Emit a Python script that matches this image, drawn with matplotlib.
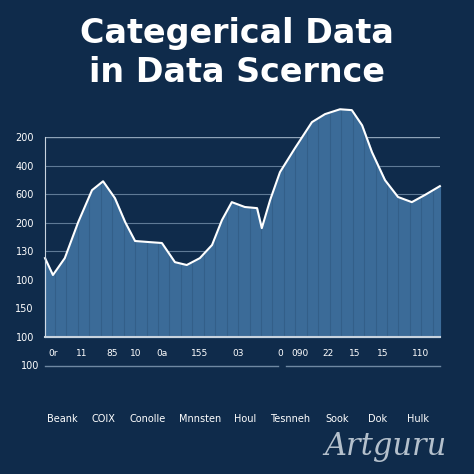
import matplotlib
matplotlib.use("Agg")
import matplotlib.pyplot as plt
import numpy as np

bg = "#0f2b4b"
x = [0, 2, 5, 8.4, 11.9, 14.7, 17.7, 20.3, 22.8, 26.6, 29.6, 32.9, 35.9, 39.2, 42.3, 44.8, 47.3,
     50.6, 53.7, 54.9, 57, 59.5, 63.3, 67.6, 70.9, 74.7, 77.7, 80.3, 82.8, 86.1, 89.4, 92.9, 96.2, 100]
y = [2.76, 2.17, 2.76, 4.02, 5.14, 5.45, 4.86, 4.02, 3.36, 3.32, 3.29, 2.62, 2.52, 2.76, 3.22, 4.09, 4.72,
     4.55, 4.51, 3.81, 4.79, 5.77, 6.61, 7.52, 7.80, 7.97, 7.94, 7.41, 6.47, 5.49, 4.90, 4.72, 4.97, 5.28]
ytick_labels = ["100", "150", "100", "130", "200", "600", "400", "200"]
xtick_labels = ["0r", "11", "85", "10", "0a", "155", "03", "0", "090", "22", "15", "15", "110"]
xtick_px = [53, 82, 112, 136, 162, 200, 238, 280, 300, 328, 355, 383, 421]
categories = ["Beank", "COIX", "Conolle", "Mnnsten", "Houl", "Tesnneh", "Sook", "Dok", "Hulk"]
cat_px = [62, 103, 148, 200, 245, 290, 337, 378, 418]

fig = plt.figure(figsize=(4.74, 4.74), dpi=100, facecolor=bg)
ax = fig.add_axes([0.095, 0.289, 0.833, 0.422])
ax.set_facecolor(bg)
ax.set_xlim(0, 100)
ax.set_ylim(0, 7)
for g in range(1, 7):
    ax.axhline(g, color="#5f7a96", lw=0.8, zorder=0)
ax.axhline(7, color="#8ea3b8", lw=1, zorder=0)
ax.fill_between(x, y, 0, color="#3b6b98", zorder=1, clip_on=False)
for sx in np.arange(2.5, 100, 2.9):
    yi = np.interp(sx, x, y)
    ax.plot([sx, sx], [0, yi], color="#335f89", lw=0.8, zorder=2, clip_on=False)
ax.plot(x, y, color="white", lw=1.5, zorder=3, clip_on=False)
ax.plot([0, 0], [0, 2.76], color="#d0dbe6", lw=1.5, zorder=3)
for s in ["top", "right"]:
    ax.spines[s].set_visible(False)
ax.spines["left"].set_color("#c8d3de")
ax.spines["bottom"].set_color("#c8d3de")
ax.spines["bottom"].set_linewidth(1.5)
ax.set_yticks(range(8))
ax.set_yticklabels(ytick_labels, color="white", fontsize=7)
ax.tick_params(axis="y", length=0, pad=8)
ax.set_xticks([])

for lbl, px in zip(xtick_labels, xtick_px):
    fig.text(px / 474, 1 - 354 / 474, lbl, color="white", fontsize=6.5, ha="center", va="center")
fig.add_artist(plt.Line2D([45 / 474, 278 / 474], [1 - 366 / 474] * 2, color="#6f88a2", lw=1))
fig.add_artist(plt.Line2D([286 / 474, 440 / 474], [1 - 366 / 474] * 2, color="#6f88a2", lw=1))
fig.text(21 / 474, 1 - 366 / 474, "100", color="white", fontsize=7, ha="left", va="center")
for c, px in zip(categories, cat_px):
    fig.text(px / 474, 1 - 419 / 474, c, color="white", fontsize=7, ha="center", va="center")

fig.text(0.5, 1 - 33 / 474, "Categerical Data", color="white", fontsize=24, fontweight="bold", ha="center", va="center")
fig.text(0.5, 1 - 72 / 474, "in Data Scernce", color="white", fontsize=24, fontweight="bold", ha="center", va="center")
fig.text(385 / 474, 1 - 446 / 474, "Artguru", color="#b4c0cc", fontsize=22, style="italic",
         family="DejaVu Serif", ha="center", va="center")
fig.savefig("out.png", dpi=100, facecolor=bg)
